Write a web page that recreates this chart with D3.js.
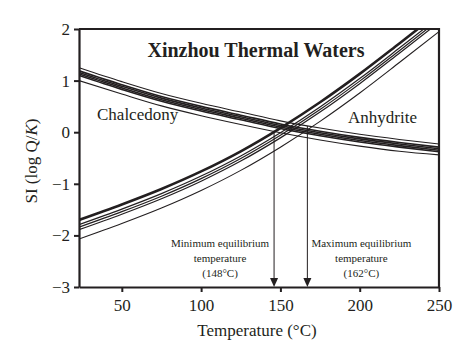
<!DOCTYPE html>
<html>
<head>
<meta charset="utf-8">
<script src="https://cdn.jsdelivr.net/npm/d3@7"></script>
<style>
  body { margin: 0; background: #fff; }
  svg { display: block; font-family: "Liberation Serif", "Times New Roman", serif; }
</style>
</head>
<body>
<svg id="chart" width="474" height="363"></svg>
<script>
const temps = [23, 50, 75, 100, 125, 150, 175, 200, 225, 250];

// chalcedony saturation index bundle (thin outer lines + dark central band)
const chalcedonyTop = [1.25, 0.98, 0.75, 0.56, 0.39, 0.22, 0.08, -0.04, -0.14, -0.23];
const chalcedonyBand1 = [1.19, 0.92, 0.69, 0.50, 0.33, 0.16, 0.02, -0.10, -0.20, -0.29];
const chalcedonyBand2 = [1.16, 0.89, 0.66, 0.47, 0.30, 0.13, -0.01, -0.13, -0.23, -0.32];
const chalcedonyBand3 = [1.13, 0.86, 0.63, 0.44, 0.27, 0.10, -0.04, -0.16, -0.26, -0.35];
const chalcedonyBand4 = [1.10, 0.83, 0.60, 0.41, 0.24, 0.07, -0.07, -0.19, -0.29, -0.38];
const chalcedonyBottom = [1.00, 0.74, 0.51, 0.32, 0.15, -0.01, -0.15, -0.27, -0.37, -0.44];

// anhydrite saturation index bundle
const anhydriteMain = [-1.70, -1.40, -1.10, -0.76, -0.37, 0.08, 0.58, 1.13, 1.72, 2.32];
const anhydrite2 = [-1.79, -1.49, -1.19, -0.85, -0.46, -0.01, 0.49, 1.04, 1.63, 2.23];
const anhydrite3 = [-1.84, -1.54, -1.24, -0.90, -0.51, -0.06, 0.44, 0.99, 1.58, 2.18];
const anhydrite4 = [-1.89, -1.59, -1.29, -0.95, -0.56, -0.11, 0.39, 0.94, 1.53, 2.13];
const anhydriteLow = [-2.07, -1.77, -1.47, -1.13, -0.74, -0.29, 0.21, 0.76, 1.35, 1.95];

// equilibrium temperature markers
const arrowTemps = [146, 167];
const arrowTops = [0.03, 0.12];
const arrowLabels = [
  ['Minimum equilibrium', 'temperature', '(148°C)'],
  ['Maximum equilibrium', 'temperature', '(162°C)'],
];

const xTicks = [50, 100, 150, 200, 250];
const yTicks = [-3, -2, -1, 0, 1, 2];

const ink = '#231f20';
const margin = { top: 29, right: 35, bottom: 76, left: 79 };
const width = 474, height = 363;

const svg = d3.select('#chart');
svg.append('rect').attr('width', width).attr('height', height).attr('fill', '#fff');

const x = d3.scaleLinear().domain([23, 250]).range([margin.left, width - margin.right]);
const y = d3.scaleLinear().domain([-3, 2]).range([height - margin.bottom, margin.top]);

svg.append('defs').append('clipPath').attr('id', 'plot-clip')
  .append('rect')
    .attr('x', margin.left)
    .attr('y', margin.top)
    .attr('width', x(250) - x(23))
    .attr('height', y(-3) - y(2));

const line = d3.line()
  .x((d, i) => x(temps[i]))
  .y(d => y(d))
  .curve(d3.curveMonotoneX);

const series = [
  { values: chalcedonyTop, w: 1.1 },
  { values: chalcedonyBand1, w: 1.6 },
  { values: chalcedonyBand2, w: 1.6 },
  { values: chalcedonyBand3, w: 1.6 },
  { values: chalcedonyBand4, w: 1.6 },
  { values: chalcedonyBottom, w: 1.1 },
  { values: anhydriteMain, w: 2.6 },
  { values: anhydrite2, w: 1.2 },
  { values: anhydrite3, w: 1.2 },
  { values: anhydrite4, w: 1.2 },
  { values: anhydriteLow, w: 1.1 },
];

const plot = svg.append('g').attr('clip-path', 'url(#plot-clip)');
plot.selectAll('path.si-line')
  .data(series)
  .join('path')
    .attr('class', 'si-line')
    .attr('d', d => line(d.values))
    .attr('fill', 'none')
    .attr('stroke', ink)
    .attr('stroke-width', d => d.w);

// arrows down to the temperature axis
const arrows = svg.append('g').attr('class', 'arrows');
arrowTemps.forEach((t, i) => {
  const ax = x(t);
  const bottom = y(-3);
  arrows.append('line')
    .attr('x1', ax).attr('x2', ax)
    .attr('y1', y(arrowTops[i])).attr('y2', bottom - 7)
    .attr('stroke', ink)
    .attr('stroke-width', 1);
  arrows.append('path')
    .attr('d', `M${ax - 4},${bottom - 9}L${ax + 4},${bottom - 9}L${ax},${bottom}Z`)
    .attr('fill', ink);

  const labelX = i === 0 ? ax - 54 : ax + 54;
  arrows.append('text')
    .attr('x', labelX)
    .attr('text-anchor', 'middle')
    .attr('font-size', 11)
    .attr('fill', ink)
    .selectAll('tspan')
    .data(arrowLabels[i])
    .join('tspan')
      .attr('x', labelX)
      .attr('y', (d, j) => 247 + j * 15)
      .text(d => d);
});

// axes
const fmt = d => (d < 0 ? '\u2212' + Math.abs(d) : String(d));

const xAxis = svg.append('g')
  .attr('transform', `translate(0,${y(-3)})`)
  .call(d3.axisBottom(x).tickValues(xTicks).tickSize(5).tickSizeOuter(0).tickPadding(7));

const yAxis = svg.append('g')
  .attr('transform', `translate(${margin.left},0)`)
  .call(d3.axisLeft(y).tickValues(yTicks).tickFormat(fmt).tickSize(5).tickSizeOuter(0).tickPadding(4));

[xAxis, yAxis].forEach(g => {
  g.select('.domain').attr('stroke', ink).attr('stroke-width', 2.2);
  g.selectAll('.tick line').attr('stroke', ink).attr('stroke-width', 2);
  g.selectAll('.tick text')
    .attr('fill', ink)
    .style('font-family', '"Liberation Serif", serif')
    .style('font-size', '17px');
});

// top and right frame
svg.append('path')
  .attr('d', `M${x(23)},${y(2)}H${x(250)}V${y(-3)}`)
  .attr('fill', 'none')
  .attr('stroke', ink)
  .attr('stroke-width', 2.2);

// labels
svg.append('text')
  .attr('x', 256)
  .attr('y', 57)
  .attr('text-anchor', 'middle')
  .attr('font-size', 20)
  .attr('font-weight', 'bold')
  .attr('fill', ink)
  .text('Xinzhou Thermal Waters');

svg.append('text')
  .attr('x', 97).attr('y', 120)
  .attr('font-size', 17)
  .attr('fill', ink)
  .text('Chalcedony');

svg.append('text')
  .attr('x', 348).attr('y', 123)
  .attr('font-size', 17)
  .attr('fill', ink)
  .text('Anhydrite');

svg.append('text')
  .attr('x', 257).attr('y', 336)
  .attr('text-anchor', 'middle')
  .attr('font-size', 17)
  .attr('fill', ink)
  .text('Temperature (°C)');

const yLabel = svg.append('text')
  .attr('transform', 'translate(37,161) rotate(-90)')
  .attr('text-anchor', 'middle')
  .attr('font-size', 17)
  .attr('fill', ink);
yLabel.append('tspan').text('SI (log Q/');
yLabel.append('tspan').attr('font-style', 'italic').text('K');
yLabel.append('tspan').text(')');
</script>
</body>
</html>
